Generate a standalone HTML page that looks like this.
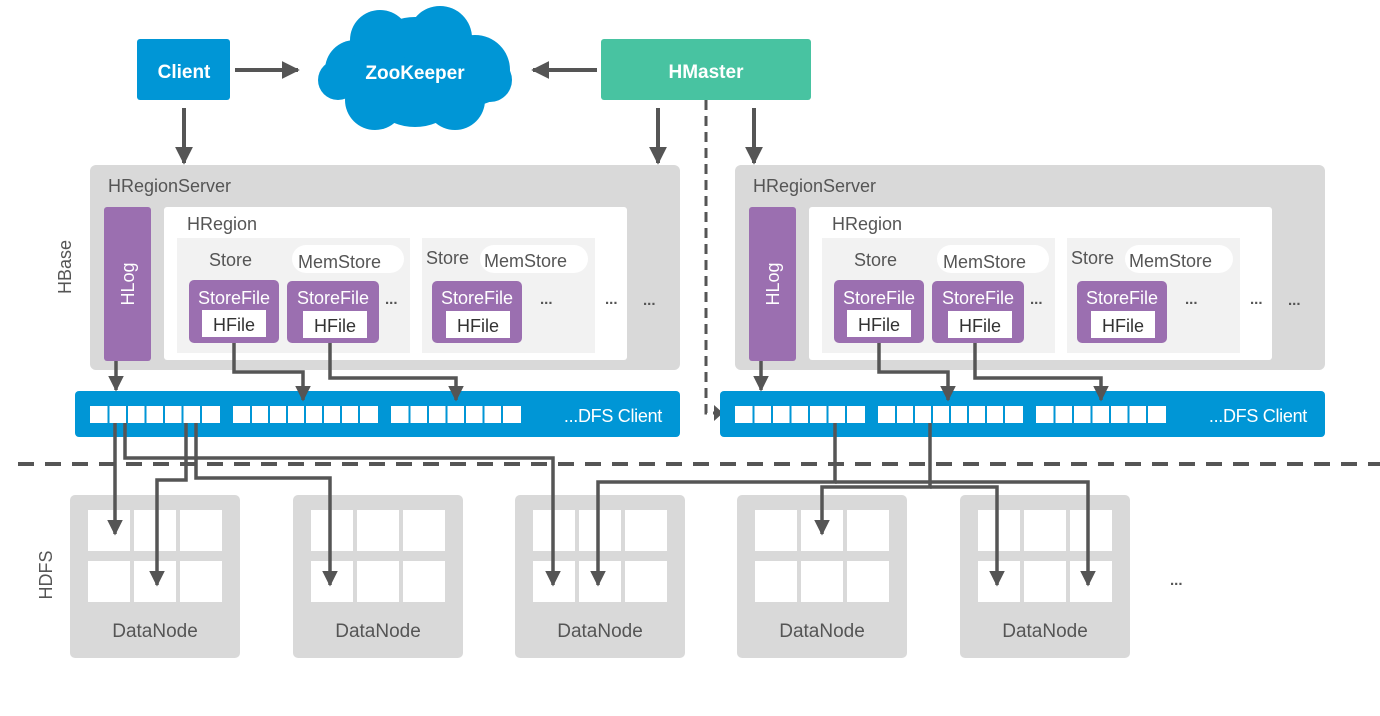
<!DOCTYPE html>
<html><head><meta charset="utf-8"><style>
html,body{margin:0;padding:0;background:#fff;}
svg{display:block;font-family:"Liberation Sans",sans-serif;}
</style></head><body>
<svg width="1380" height="716" viewBox="0 0 1380 716" xmlns="http://www.w3.org/2000/svg">
<defs>
<marker id="a" viewBox="0 0 10 10" refX="9" refY="5" markerWidth="4.5" markerHeight="4.5" orient="auto" markerUnits="strokeWidth"><path d="M0,0 L10,5 L0,10 z" fill="#555"/></marker>
<g id="srv">
  <rect x="90" y="165" width="590" height="205" rx="6" fill="#d9d9d9"/>
  <text x="108" y="192" font-size="18" fill="#555">HRegionServer</text>
  <rect x="104" y="207" width="47" height="154" rx="3" fill="#9b6fb0"/>
  <text transform="translate(134,284) rotate(-90)" text-anchor="middle" font-size="18" fill="#fff">HLog</text>
  <rect x="164" y="207" width="463" height="153" rx="3" fill="#fff"/>
  <text x="187" y="230" font-size="18" fill="#555">HRegion</text>
  <rect x="177" y="238" width="233" height="115" fill="#f2f2f2"/>
  <rect x="422" y="238" width="173" height="115" fill="#f2f2f2"/>
  <text x="209" y="266" font-size="18" fill="#555">Store</text>
  <rect x="292" y="245" width="112" height="28" rx="14" fill="#fff"/>
  <text x="298" y="268" font-size="18" fill="#555">MemStore</text>
  <text x="426" y="264" font-size="18" fill="#555">Store</text>
  <rect x="480" y="245" width="108" height="28" rx="14" fill="#fff"/>
  <text x="484" y="267" font-size="18" fill="#555">MemStore</text>
  <g font-size="18">
  <rect x="189" y="280" width="90" height="63" rx="5" fill="#9b6fb0"/>
  <text x="234" y="304" text-anchor="middle" fill="#fff">StoreFile</text>
  <rect x="202" y="310" width="64" height="27" fill="#fff"/>
  <text x="234" y="331" text-anchor="middle" fill="#333">HFile</text>
  <rect x="287" y="281" width="92" height="62" rx="5" fill="#9b6fb0"/>
  <text x="333" y="304" text-anchor="middle" fill="#fff">StoreFile</text>
  <rect x="303" y="311" width="64" height="27" fill="#fff"/>
  <text x="335" y="332" text-anchor="middle" fill="#333">HFile</text>
  <rect x="432" y="281" width="90" height="62" rx="5" fill="#9b6fb0"/>
  <text x="477" y="304" text-anchor="middle" fill="#fff">StoreFile</text>
  <rect x="446" y="311" width="64" height="27" fill="#fff"/>
  <text x="478" y="332" text-anchor="middle" fill="#333">HFile</text>
  </g>
  <g font-size="15" font-weight="bold" fill="#555"><text x="385" y="304">...</text><text x="540" y="304">...</text><text x="605" y="304">...</text><text x="643" y="305">...</text></g>
  <rect x="75" y="391" width="605" height="46" rx="4" fill="#0096d6"/>
  <g fill="#fff">
    <rect x="90" y="406" width="130" height="17"/>
    <rect x="233" y="406" width="145" height="17"/>
    <rect x="391" y="406" width="130" height="17"/>
  </g>
  <g stroke="#0096d6" stroke-width="2">
    <path d="M108.5,406v17M127,406v17M145.5,406v17M164,406v17M182.5,406v17M201,406v17"/>
    <path d="M251,406v17M269,406v17M287,406v17M305,406v17M323,406v17M341,406v17M359,406v17"/>
    <path d="M409.5,406v17M428,406v17M446.5,406v17M465,406v17M483.5,406v17M502,406v17"/>
  </g>
  <text x="662" y="422" text-anchor="end" font-size="18" fill="#fff" letter-spacing="-0.3">...DFS Client</text>
  <g stroke="#555" stroke-width="3.5" fill="none" marker-end="url(#a)">
    <path d="M116,361V390"/>
    <path d="M234,343V372H303V400"/>
    <path d="M330,343V378H456V400"/>
  </g>
</g>
<g id="dn">
  <rect x="70" y="495" width="170" height="163" rx="5" fill="#d9d9d9"/>
  <g fill="#fff">
    <rect x="88" y="510" width="42" height="41"/><rect x="134" y="510" width="42" height="41"/><rect x="180" y="510" width="42" height="41"/>
    <rect x="88" y="561" width="42" height="41"/><rect x="134" y="561" width="42" height="41"/><rect x="180" y="561" width="42" height="41"/>
  </g>
  <text x="155" y="637" text-anchor="middle" font-size="19" fill="#555">DataNode</text>
</g>
</defs>

<rect x="137" y="39" width="93" height="61" rx="3" fill="#0096d6"/>
<text x="184" y="78" text-anchor="middle" font-size="19" font-weight="bold" fill="#fff">Client</text>
<g fill="#0096d6">
  <circle cx="415" cy="72" r="55"/>
  <circle cx="355" cy="70" r="30"/>
  <circle cx="475" cy="70" r="35"/>
  <circle cx="380" cy="40" r="30"/>
  <circle cx="440" cy="38" r="32"/>
  <circle cx="375" cy="100" r="30"/>
  <circle cx="455" cy="100" r="30"/>
  <circle cx="338" cy="80" r="20"/>
  <circle cx="490" cy="80" r="22"/>
</g>
<text x="415" y="79" text-anchor="middle" font-size="19" font-weight="bold" fill="#fff">ZooKeeper</text>
<rect x="601" y="39" width="210" height="61" rx="3" fill="#48c3a1"/>
<text x="706" y="78" text-anchor="middle" font-size="19" font-weight="bold" fill="#fff">HMaster</text>

<g stroke="#555" stroke-width="4" fill="none" marker-end="url(#a)">
  <path d="M235,70H298"/>
  <path d="M597,70H533"/>
  <path d="M184,108V163"/>
  <path d="M658,108V163"/>
  <path d="M754,108V163"/>
</g>
<path d="M706,100V413H716" stroke="#555" stroke-width="3" stroke-dasharray="10,6" fill="none"/>
<path d="M714,405L723,413L714,421z" fill="#555"/>

<use href="#srv"/>
<use href="#srv" transform="translate(645,0)"/>

<text transform="translate(71,267) rotate(-90)" text-anchor="middle" font-size="18" fill="#555">HBase</text>
<text transform="translate(52,575) rotate(-90)" text-anchor="middle" font-size="18" fill="#555">HDFS</text>

<path d="M18,464H1380" stroke="#555" stroke-width="4" stroke-dasharray="16,11"/>

<use href="#dn"/>
<use href="#dn" transform="translate(223,0)"/>
<use href="#dn" transform="translate(445,0)"/>
<use href="#dn" transform="translate(667,0)"/>
<use href="#dn" transform="translate(890,0)"/>
<text x="1170" y="585" font-size="15" font-weight="bold" fill="#555">...</text>

<g stroke="#555" stroke-width="3.5" fill="none" marker-end="url(#a)">
  <path d="M115,423V534"/>
  <path d="M125,423V458H553V585"/>
  <path d="M186,423V480H157V585"/>
  <path d="M196,423V478H330V585"/>
  <path d="M835,423V482H598V585"/>
  <path d="M835,482H1088V585"/>
  <path d="M930,423V487H822V534"/>
  <path d="M930,487H997V585"/>
</g>
</svg>
</body></html>
